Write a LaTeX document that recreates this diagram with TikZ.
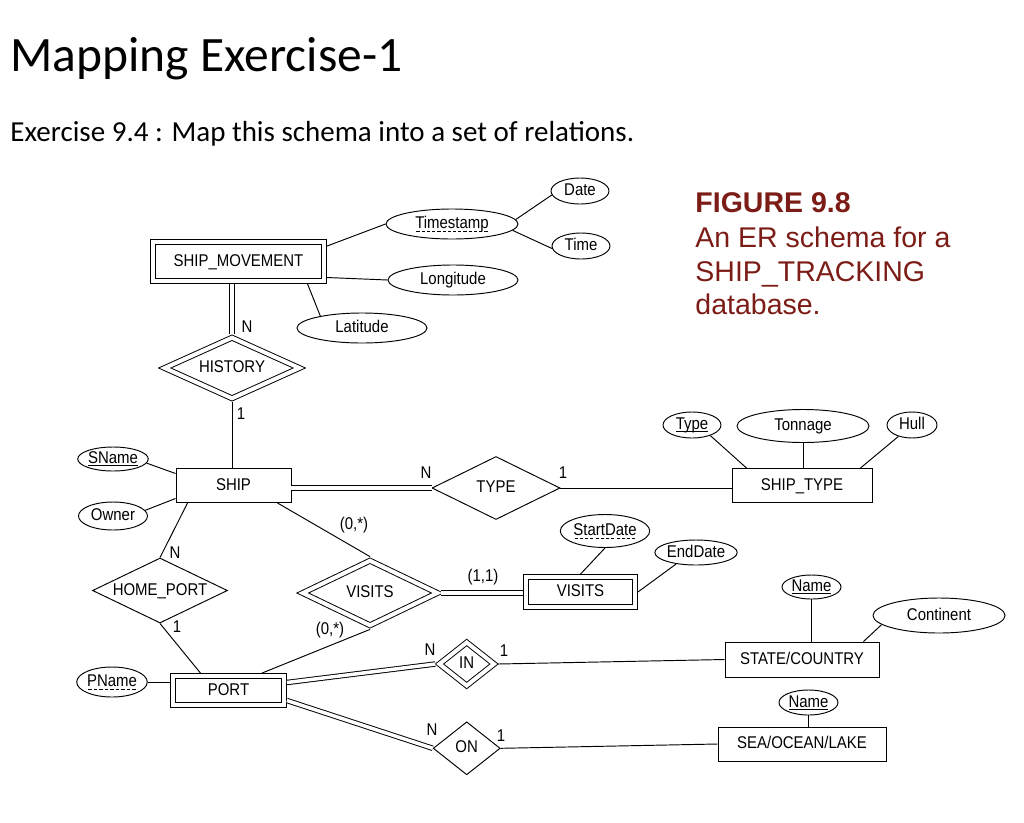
\documentclass[tikz,border=0pt]{standalone}
\usepackage{fontspec}
\usetikzlibrary{shapes.geometric}
\setmainfont{Liberation Sans}
\newfontfamily\erfont[FakeStretch=0.88]{Liberation Sans}
\newfontfamily\capfont{Liberation Sans}
\newfontfamily\titlefont{Carlito}
\definecolor{capred}{RGB}{124,28,22}
\newsavebox\ulbox
\newlength\ullen
\newcommand\sul[1]{\sbox\ulbox{#1}\setlength\ullen{\wd\ulbox}\rlap{\usebox\ulbox}\raisebox{-2.5pt}{\rule{\ullen}{0.8pt}}}
\newcommand\dul[1]{\sbox\ulbox{#1}\setlength\ullen{\wd\ulbox}\rlap{\usebox\ulbox}\raisebox{-3pt}{\hbox to\ullen{\xleaders\hbox to 5pt{\hss\rule{3.2pt}{0.8pt}\hss}\hfill}}}
\begin{document}
\begin{tikzpicture}[x=1pt,y=-1pt,line width=0.95pt,
  dfont/.style={font=\erfont\fontsize{17}{20}\selectfont,text height=12.5pt,text depth=3.5pt},
  ent/.style={dfont,draw,rectangle,inner sep=0pt},
  went/.style={ent,double,double distance=4pt,outer sep=2.9pt},
  rel/.style={dfont,draw,diamond,shape aspect=2,inner sep=0pt},
  wrel/.style={rel,double,double distance=4pt,outer sep=2.9pt},
  attr/.style={dfont,draw,ellipse,inner xsep=0pt,inner ysep=-4pt},
  lbl/.style={dfont,inner sep=0pt},
  dbl/.style={double,double distance=3.5pt},
  ttl/.style={anchor=base west,inner sep=0pt},
  captxt/.style={anchor=base west,inner sep=0pt,text=capred,font=\capfont\fontsize{28.5}{34}\selectfont}
]
\useasboundingbox (0,0) rectangle (1024,822);

% titles
\node[ttl,font=\titlefont\fontsize{49.5}{60}\selectfont] (title) at (10,71) {Mapping Exercise-1};
\node[ttl,font=\titlefont\fontsize{29}{34}\selectfont] (sub) at (10,141) {Exercise 9.4 : Map this schema into a set of relations.};
\node[captxt,font=\capfont\bfseries\fontsize{28.5}{34}\selectfont] (cap1) at (695,212) {FIGURE 9.8};
\node[captxt] (cap2) at (695,247) {An ER schema for a};
\node[captxt] (cap3) at (695,281) {SHIP\_TRACKING};
\node[captxt] (cap4) at (695,314) {database.};

% entities, relationships, attributes
\node[went,minimum width=171pt,minimum height=39pt] (sm) at (238.5,261.5) {SHIP\_MOVEMENT};
\node[attr,minimum width=132pt,minimum height=30pt] (ts) at (452,224) {\dul{Timestamp}};
\node[attr,minimum width=58pt,minimum height=26pt] (date) at (580,191) {Date};
\node[attr,minimum width=58pt,minimum height=26pt] (time) at (581,246) {Time};
\node[attr,minimum width=130pt,minimum height=30pt] (lon) at (453,280) {Longitude};
\node[attr,minimum width=130pt,minimum height=30pt] (lat) at (362,328) {Latitude};
\node[wrel,minimum width=137pt,minimum height=63pt] (hist) at (232,368) {HISTORY};
\node[ent,minimum width=115pt,minimum height=34pt] (ship) at (233.5,485.5) {SHIP};
\node[attr,minimum width=69pt,minimum height=24pt] (sname) at (113,459) {\sul{SName}};
\node[attr,minimum width=69pt,minimum height=28pt] (owner) at (113,516) {Owner};
\node[rel,minimum width=128pt,minimum height=63pt] (typ) at (496,488) {TYPE};
\node[ent,minimum width=140pt,minimum height=34pt] (st) at (802,485.5) {SHIP\_TYPE};
\node[attr,minimum width=58pt,minimum height=26pt] (ta) at (692,425) {\sul{Type}};
\node[attr,minimum width=132pt,minimum height=33pt] (ton) at (803,426) {Tonnage};
\node[attr,minimum width=50pt,minimum height=26pt] (hull) at (912,425) {Hull};
\node[rel,minimum width=135pt,minimum height=65pt] (hp) at (160,590.5) {HOME\_PORT};
\node[went,minimum width=111pt,minimum height=29pt] (port) at (228.5,690.5) {PORT};
\node[attr,minimum width=69pt,minimum height=30pt] (pname) at (112,682) {\dul{PName}};
\node[wrel,minimum width=137pt,minimum height=67pt] (vr) at (370,593) {VISITS};
\node[went,minimum width=109pt,minimum height=30pt] (ve) at (580.5,592) {VISITS};
\node[attr,minimum width=85pt,minimum height=33pt] (sd) at (605,531) {\dul{StartDate}};
\node[attr,minimum width=82pt,minimum height=25pt] (ed) at (696,552.5) {EndDate};
\node[wrel,minimum width=57pt,minimum height=45.5pt] (in) at (466.7,664) {IN};
\node[ent,minimum width=154pt,minimum height=35pt] (sc) at (802,659.5) {STATE/COUNTRY};
\node[attr,minimum width=59pt,minimum height=24pt] (n1) at (811.5,587) {\sul{Name}};
\node[attr,minimum width=132pt,minimum height=35pt] (cont) at (939,615.5) {Continent};
\node[rel,minimum width=67pt,minimum height=53pt] (on) at (466.7,748.3) {ON};
\node[ent,minimum width=168pt,minimum height=34pt] (sea) at (802,744) {SEA/OCEAN/LAKE};
\node[attr,minimum width=59pt,minimum height=25pt] (n2) at (808.5,702.5) {\sul{Name}};

% cardinality labels
\node[lbl] (lN1) at (247,328) {N};
\node[lbl] (l11) at (241,415) {1};
\node[lbl] (lN2) at (426,474) {N};
\node[lbl] (l12) at (563,474) {1};
\node[lbl] (lz1) at (354,525) {(0,*)};
\node[lbl] (lz2) at (330,630) {(0,*)};
\node[lbl] (lo1) at (483,577) {(1,1)};
\node[lbl] (lN3) at (175,554) {N};
\node[lbl] (l13) at (177,628) {1};
\node[lbl] (lN4) at (430,651) {N};
\node[lbl] (l14) at (504,652) {1};
\node[lbl] (lN5) at (432,731) {N};
\node[lbl] (l15) at (501,737) {1};

% connectors
\draw ([yshift=-7pt]sm.north east) -- (ts.west);
\draw (ts.4) -- (date.188);
\draw (ts.-6) -- (time.185);
\draw ([yshift=-16pt]sm.east) -- (lon.west);
\draw ([xshift=69pt]sm.south) -- (lat.164);
\draw[dbl] (hist.north |- sm.south) -- (hist.north);
\draw (hist.south) -- (hist.south |- ship.north);
\draw (sname.-7) -- ([yshift=12pt]ship.west);
\draw (owner.10) -- ([yshift=-13pt]ship.west);
\draw[dbl] ([yshift=-2.5pt]ship.east) -- (typ.west);
\draw (typ.east) -- (typ.east -| st.west);
\draw (ta.-30) -- ([xshift=15pt]st.north west);
\draw (ton.south) -- (ton.south |- st.north);
\draw (hull.220) -- ([xshift=-12pt]st.north east);
\draw ([xshift=12pt]ship.south west) -- (hp.north);
\draw (hp.south) -- ([xshift=-28pt]port.north);
\draw (pname.east) -- (pname.east -| port.west);
\draw ([xshift=-14pt]ship.south east) -- (vr.north);
\draw (vr.south) -- ([xshift=-25pt]port.north east);
\draw[dbl] (vr.east) -- (vr.east -| ve.west);
\draw (sd.south) -- (ve.north);
\draw (ed.210) -- (ve.east);
\draw[dbl] ([yshift=8pt]port.east) -- (in.west);
\draw[dbl] ([yshift=-10pt]port.east) -- (on.west);
\draw (in.east) -- (sc.west);
\draw (on.east) -- (sea.west);
\draw (n1.south) -- (n1.south |- sc.north);
\draw (cont.189) -- ([xshift=-16pt]sc.north east);
\draw (n2.south) -- (n2.south |- sea.north);
\end{tikzpicture}
\end{document}
